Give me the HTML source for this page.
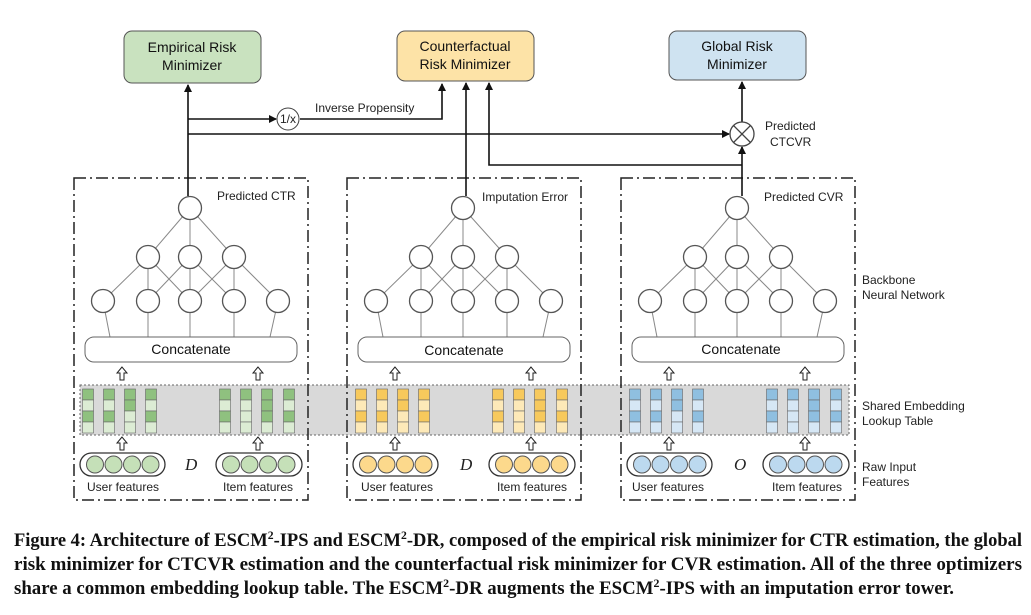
<!DOCTYPE html>
<html><head><meta charset="utf-8"><style>
html,body{margin:0;padding:0;background:#fff;width:1031px;height:615px;overflow:hidden}
svg{display:block}
.t{font-family:"Liberation Sans",sans-serif;font-size:12px;fill:#222}
.b{font-family:"Liberation Sans",sans-serif;font-size:14px;fill:#111}
.c{font-family:"Liberation Serif",serif;font-weight:bold;font-size:19px;fill:#111}
</style></head><body>
<svg id="s" width="1031" height="615" xmlns="http://www.w3.org/2000/svg">
<defs><marker id="ar" markerWidth="8" markerHeight="8" refX="7" refY="4" orient="auto" markerUnits="userSpaceOnUse"><path d="M0,0 L8,4 L0,8z" fill="#111"/></marker></defs>
<rect x="80" y="385" width="769" height="50" fill="#d9d9d9" stroke="#666" stroke-dasharray="2,2"/>
<g id="g"></g>
<rect x="124" y="31" width="137" height="52" rx="8" fill="#c9e2bf" stroke="#555"/>
<text class="b" x="192" y="52" text-anchor="middle">Empirical Risk</text>
<text class="b" x="192" y="70" text-anchor="middle">Minimizer</text>
<rect x="397" y="31" width="137" height="50" rx="8" fill="#fde3a7" stroke="#555"/>
<text class="b" x="465" y="51" text-anchor="middle">Counterfactual</text>
<text class="b" x="465" y="69" text-anchor="middle">Risk Minimizer</text>
<rect x="669" y="31" width="137" height="49" rx="8" fill="#cfe3f1" stroke="#555"/>
<text class="b" x="737" y="51" text-anchor="middle">Global Risk</text>
<text class="b" x="737" y="69" text-anchor="middle">Minimizer</text>
<g stroke="#111" stroke-width="1.6" fill="none">
<line x1="188" y1="196" x2="188" y2="85" marker-end="url(#ar)"/>
<line x1="188" y1="119" x2="276" y2="119" marker-end="url(#ar)"/>
<polyline points="300,119 442,119 442,84" marker-end="url(#ar)"/>
<line x1="188" y1="134" x2="729" y2="134" marker-end="url(#ar)"/>
<line x1="466" y1="196" x2="466" y2="83" marker-end="url(#ar)"/>
<polyline points="742,165 489,165 489,83" marker-end="url(#ar)"/>
<line x1="742" y1="196" x2="742" y2="147" marker-end="url(#ar)"/>
<line x1="742" y1="122" x2="742" y2="82" marker-end="url(#ar)"/>
</g>
<circle cx="288" cy="119" r="11" fill="#fff" stroke="#444"/>
<text class="t" x="288" y="123" text-anchor="middle" font-size="11">1/x</text>
<text class="t" x="315" y="112">Inverse Propensity</text>
<circle cx="742" cy="134" r="12" fill="#fff" stroke="#444" stroke-width="1.3"/>
<path d="M733.5,125.5 L750.5,142.5 M750.5,125.5 L733.5,142.5" stroke="#444" stroke-width="1.3"/>
<text class="t" x="765" y="130">Predicted</text>
<text class="t" x="770" y="146">CTCVR</text>
<text class="t" x="217" y="200">Predicted CTR</text>
<text class="t" x="482" y="201">Imputation Error</text>
<text class="t" x="764" y="201">Predicted CVR</text>
<text class="b" x="191" y="354" text-anchor="middle">Concatenate</text>
<text class="b" x="464" y="355" text-anchor="middle">Concatenate</text>
<text class="b" x="741" y="354" text-anchor="middle">Concatenate</text>
<g class="t" font-size="12.5">
<text x="87" y="491">User features</text><text x="223" y="491">Item features</text>
<text x="361" y="491">User features</text><text x="497" y="491">Item features</text>
<text x="632" y="491">User features</text><text x="772" y="491">Item features</text>
</g>
<g font-family="Liberation Serif,serif" font-style="italic" font-size="17" fill="#222">
<text x="185" y="470">D</text><text x="460" y="470">D</text><text x="734" y="470">O</text>
</g>
<g class="t">
<text x="862" y="284">Backbone</text><text x="862" y="299">Neural Network</text>
<text x="862" y="410">Shared Embedding</text><text x="862" y="425">Lookup Table</text>
<text x="862" y="471">Raw Input</text><text x="862" y="486">Features</text>
</g>
<text class="c" x="14" y="546" textLength="1008" lengthAdjust="spacingAndGlyphs">Figure 4: Architecture of ESCM<tspan dy="-7" font-size="12">2</tspan><tspan dy="7">-IPS and ESCM</tspan><tspan dy="-7" font-size="12">2</tspan><tspan dy="7">-DR, composed of the empirical risk minimizer for CTR estimation, the global</tspan></text>
<text class="c" x="14" y="570" textLength="1008" lengthAdjust="spacingAndGlyphs">risk minimizer for CTCVR estimation and the counterfactual risk minimizer for CVR estimation. All of the three optimizers</text>
<text class="c" x="14" y="594" textLength="940" lengthAdjust="spacingAndGlyphs">share a common embedding lookup table. The ESCM<tspan dy="-7" font-size="12">2</tspan><tspan dy="7">-DR augments the ESCM</tspan><tspan dy="-7" font-size="12">2</tspan><tspan dy="7">-IPS with an imputation error tower.</tspan></text>
</svg>
<script>
var g=document.getElementById('g'),NS='http://www.w3.org/2000/svg';
function el(n,a){var e=document.createElementNS(NS,n);for(var k in a)e.setAttribute(k,a[k]);g.appendChild(e);return e;}
var cols=[['#8fc17f','#dcecd4'],['#f7c95c','#fde9b8'],['#8fbfe0','#d6e7f5']];
var pill=['#c5e0b8','#fcd98c','#bcd9ef'];
[0,273,547].forEach(function(o,i){
 el('rect',{x:74+o,y:178,width:234,height:322,fill:'none',stroke:'#222','stroke-width':1.5,'stroke-dasharray':'12,4,2,4'});
 var top=[190+o,208],l2=[148,190,234].map(function(x){return [x+o,257]}),l1=[103,148,190,234,278].map(function(x){return [x+o,301]});
 l2.forEach(function(p){el('line',{x1:top[0],y1:top[1],x2:p[0],y2:p[1],stroke:'#888'})});
 l2.forEach(function(p,j){[j,j+1,j+2].forEach(function(k){el('line',{x1:p[0],y1:p[1],x2:l1[k][0],y2:l1[k][1],stroke:'#888'})})});
 var cx=[110,148,190,234,270];
 l1.forEach(function(p,j){el('line',{x1:p[0],y1:p[1],x2:cx[j]+o,y2:337,stroke:'#888'})});
 [top].concat(l2,l1).forEach(function(p){el('circle',{cx:p[0],cy:p[1],r:11.5,fill:'#fff',stroke:'#555','stroke-width':1.3})});
 el('rect',{x:85+o,y:337,width:212,height:25,rx:9,fill:'#fff',stroke:'#666'});
 [122,258].forEach(function(x){[367,437].forEach(function(y){var X=x+o;
  el('path',{d:'M'+X+','+y+' l-5,6 h3 v7 h4 v-7 h3 z',fill:'#fff',stroke:'#222'})})});
 [[88,109,130,151],[225,246,267,289]].forEach(function(xs,h){xs.forEach(function(x,c){for(var r=0;r<4;r++){
  var dark=(r%2==0)?(c+h)%3!=2||r==0:(r==3?false:c==2);
  el('rect',{x:x+o-5.5,y:389+r*11,width:11,height:11,fill:dark?cols[i][0]:cols[i][1],stroke:'#666','stroke-width':0.6});}})});
 [[80,165],[216,302]].forEach(function(pp){
  el('rect',{x:pp[0]+o,y:453,width:pp[1]-pp[0],height:23,rx:11.5,fill:'#fff',stroke:'#333','stroke-width':1.3});
  for(var k=0;k<4;k++)el('circle',{cx:pp[0]+o+15+k*18.5,cy:464.5,r:8.5,fill:pill[i],stroke:'#555'});});
});
</script>
</body></html>
